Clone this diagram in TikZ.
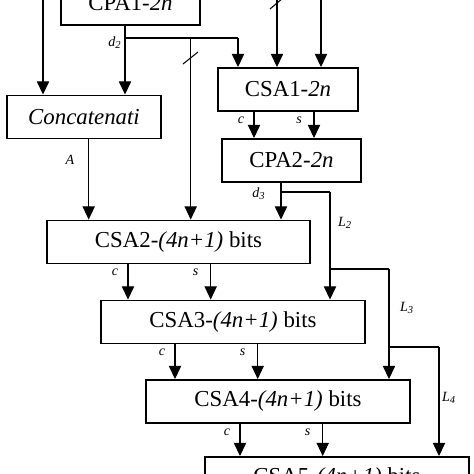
\documentclass[tikz,border=0pt]{standalone}
\usepackage{fontspec}
\setmainfont{Liberation Serif}
\usetikzlibrary{arrows.meta}

\begin{document}
\begin{tikzpicture}[
x=0.02cm,y=-0.02cm,
box/.style={draw,line width=1.1pt,minimum width=#1*0.02cm,minimum height=43*0.02cm,inner sep=0pt,font=\fontsize{13}{15}\selectfont},
box/.default=139,
arr/.style={-{Triangle[width=7pt,length=7.5pt]},line width=0.6pt},
wire/.style={line width=0.6pt},
lab/.style={font=\fontsize{8}{9}\selectfont\itshape,inner sep=0pt}
]
\useasboundingbox (0,0) rectangle (474,474);

% adders
\node[box=139] (cpa1) at (130.5,3.5) {CPA1-\textit{2n}};
\node[box=154] (concat) at (84,117) {\textit{Concatenati}};
\node[box=140] (csa1) at (288,89.5) {CSA1-\textit{2n}};
\node[box=139] (cpa2) at (291.5,160.5) {CPA2-\textit{2n}};
\node[box=263] (csa2) at (178.5,242) {CSA2-\textit{(4n+1)} bits};
\node[box=264] (csa3) at (233,322) {CSA3-\textit{(4n+1)} bits};
\node[box=264] (csa4) at (278,401.5) {CSA4-\textit{(4n+1)} bits};
\node[box=264] (csa5) at (337,478.5) {CSA5-\textit{(4n+1)} bits};

% inputs and junctions
\coordinate (in1) at (43,0);
\coordinate (in2) at (277,0);
\coordinate (in3) at (321,0);
\coordinate (xa) at (88.7,0);
\coordinate (j1) at (125,38);
\coordinate (j2) at (190.7,38);
\coordinate (j3) at (238,38);
\coordinate (j4) at (281,192);
\coordinate (j5) at (330,192);
\coordinate (j6) at (330,269);
\coordinate (j7) at (389,269);
\coordinate (j8) at (389,347);
\coordinate (j9) at (439,347);

\draw[arr] (in1) -- (in1 |- concat.north);
\draw[arr] (in2) -- (in2 |- csa1.north);
\draw[arr] (in3) -- (in3 |- csa1.north);
\draw[arr] (j1 |- cpa1.south) -- (j1 |- concat.north);
\draw[wire] (j1) -- (j3);
\draw[arr] (j3) -- (j3 |- csa1.north);
\draw[arr] (j2) -- (j2 |- csa2.north);
\draw[arr] (xa |- concat.south) -- (xa |- csa2.north);
\draw[arr] (j4 |- cpa2.south) -- (j4 |- csa2.north);
\draw[wire] (j4) -- (j5);
\draw[arr] (j5) -- (j5 |- csa3.north);
\draw[wire] (j6) -- (j7);
\draw[arr] (j7) -- (j7 |- csa4.north);
\draw[wire] (j8) -- (j9);
\draw[arr] (j9) -- (j9 |- csa5.north);

% carry and sum
\foreach \a/\b/\xc/\xs in {csa1/cpa2/254/314,csa2/csa3/128/210.7,csa3/csa4/175/257.7,csa4/csa5/240/322.7}
{
\coordinate (c\a) at (\xc,0);
\coordinate (s\a) at (\xs,0);
\draw[arr] (c\a |- \a.south) -- (c\a |- \b.north);
\draw[arr] (s\a |- \a.south) -- (s\a |- \b.north);
\node[lab] (lc\a) at ([shift={(-13,8)}]c\a |- \a.south) {c};
\node[lab] (ls\a) at ([shift={(-15,8)}]s\a |- \a.south) {s};
}

% bus marks
\draw[wire] (183,64) -- (198,52);
\draw[wire] (270,9) -- (283,-2);

% labels
\node[lab] (ld2) at (115,43) {d\textsubscript{2}};
\node[lab] (la) at (70,160) {A};
\node[lab] (ld3) at (259,194) {d\textsubscript{3}};
\node[lab] (ll2) at (345,223) {L\textsubscript{2}};
\node[lab] (ll3) at (407,308) {L\textsubscript{3}};
\node[lab] (ll4) at (449,398) {L\textsubscript{4}};
\end{tikzpicture}
\end{document}
